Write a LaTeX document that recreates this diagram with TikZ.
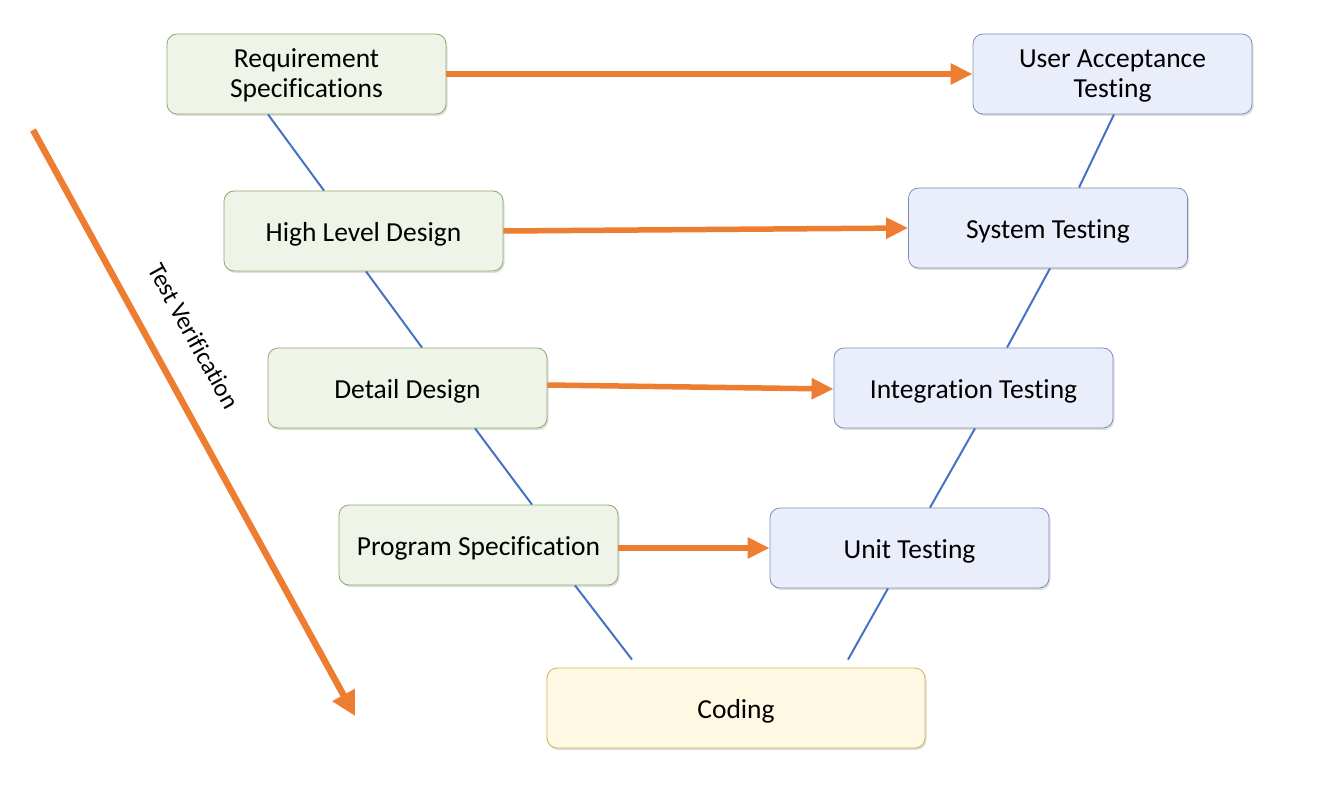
\documentclass[tikz,border=0pt]{standalone}
\usepackage{fontspec}
\setmainfont{Carlito}[Ligatures=NoCommon]
\usetikzlibrary{arrows.meta,shadows,calc}
\definecolor{gfill}{HTML}{EEF5E8}
\definecolor{gline}{HTML}{8EA86A}
\definecolor{bfill}{HTML}{E9EEFA}
\definecolor{bline}{HTML}{7F8FB8}
\definecolor{yfill}{HTML}{FFF8E3}
\definecolor{yline}{HTML}{C9B458}
\definecolor{vorange}{HTML}{ED7D31}
\definecolor{vblue}{HTML}{4472C4}
\newcommand{\vtxt}[2][-10.5pt]{\raisebox{#1}[0pt][0pt]{\begin{tabular}[b]{@{}c@{}}#2\end{tabular}}}
\tikzset{
  phase/.style={rounded corners=10pt, minimum width=279pt, minimum height=80pt,
    inner sep=0pt, font=\fontsize{27.5}{30.5}\selectfont, line width=0.8pt,
    drop shadow={opacity=0.25, shadow xshift=1.5pt, shadow yshift=-2pt}},
  design/.style={phase, fill=gfill, draw=gline},
  testbox/.style={phase, fill=bfill, draw=bline},
  codebox/.style={phase, fill=yfill, draw=yline, minimum width=378pt},
  vline/.style={draw=vblue, line width=2pt},
  harrow/.style={draw=vorange, line width=5.5pt, -{Triangle[length=22pt,width=20pt]}},
}
\begin{document}
\begin{tikzpicture}[x=1pt,y=-1pt]
\useasboundingbox (0,0) rectangle (1321,786);
\node[design] (req) at (306.5,74) {\vtxt[-24pt]{Requirement\\Specifications}};
\node[testbox] (uat) at (1112.5,74) {\vtxt[-24pt]{User Acceptance\\Testing}};
\node[design] (hld) at (363.5,231) {\vtxt{High Level Design}};
\node[testbox] (st) at (1048,228) {\vtxt{System Testing}};
\node[design] (dd) at (407.5,388) {\vtxt{Detail Design}};
\node[testbox] (it) at (973.5,388) {\vtxt{Integration Testing}};
\node[design] (ps) at (478.5,545) {\vtxt{Program Specification}};
\node[testbox] (ut) at (909.5,548) {\vtxt{Unit Testing}};
\node[codebox] (cod) at (736,708) {\vtxt{Coding}};

\draw[vline] ([xshift=-38.5pt]req.south) -- ([xshift=-39.5pt]hld.north);
\draw[vline] ([xshift=2.5pt]hld.south) -- ([xshift=14.5pt]dd.north);
\draw[vline] ([xshift=67.5pt]dd.south) -- ([xshift=53.5pt]ps.north);
\draw[vline] ([xshift=96.5pt]ps.south) -- ([xshift=-104pt,yshift=8pt]cod.north);
\draw[vline] ([xshift=112pt,yshift=8pt]cod.north) -- ([xshift=-21.5pt]ut.south);
\draw[vline] ([xshift=20.5pt]ut.north) -- ([xshift=1.5pt]it.south);
\draw[vline] ([xshift=33.5pt]it.north) -- ([xshift=2pt]st.south);
\draw[vline] ([xshift=31pt]st.north) -- ([xshift=1.5pt]uat.south);

\draw[harrow] (req.east) -- (uat.west);
\draw[harrow] (hld.east) -- (st.west);
\draw[harrow] ([yshift=3pt]dd.east) -- ([yshift=-1pt]it.west);
\draw[harrow] ([yshift=-3pt]ps.east) -- (ut.west);

\coordinate (tvs) at (33,130);
\coordinate (tve) at (355,716);
\draw[draw=vorange, line width=6.5pt, -{Triangle[length=24pt,width=24pt]}] (tvs) -- (tve);
\node[rotate=-61.2, font=\fontsize{25}{29}\selectfont] (tvl) at (194,336) {Test Verification};
\end{tikzpicture}
\end{document}
